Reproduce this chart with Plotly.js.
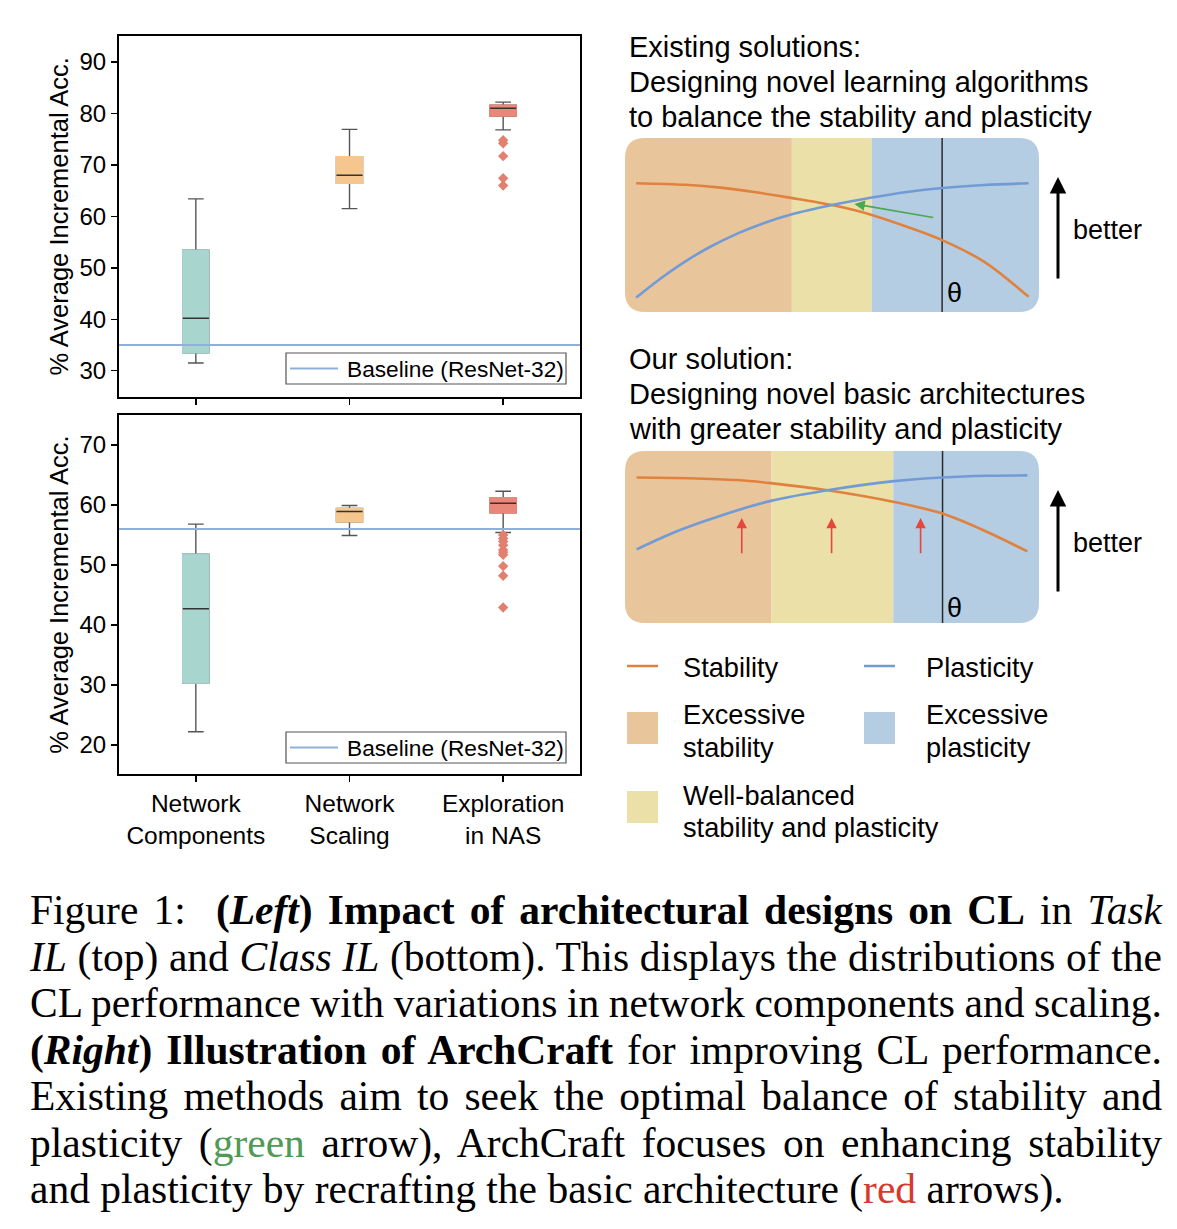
<!DOCTYPE html>
<html>
<head>
<meta charset="utf-8">
<script src="https://cdn.plot.ly/plotly-3.0.1.min.js"></script>
<style>
  body { margin: 0; background: #fff; }
  #wrap { position: relative; width: 1177px; height: 1229px; overflow: hidden; }
  #chart { position: absolute; left: 0; top: 0; width: 1177px; height: 1229px; }
  #caption { position: absolute; left: 30px; top: 887px; width: 1132px;
    font-family: "Liberation Serif", "Times New Roman", serif; font-size: 41.5px;
    line-height: 46.5px; color: #000; }
  #caption div { height: 46.5px; white-space: nowrap; text-align: left; }
</style>
</head>
<body>
<div id="wrap">
  <div id="chart"></div>
  <div id="caption">
    <div class="j"><span>Figure 1:&nbsp; <b>(<i>Left</i>) Impact of architectural designs on CL</b> in <i>Task</i></span></div>
    <div class="j"><span><i>IL</i> (top) and <i>Class IL</i> (bottom). This displays the distributions of the</span></div>
    <div class="j"><span>CL performance with variations in network components and scaling.</span></div>
    <div class="j"><span><b>(<i>Right</i>) Illustration of ArchCraft</b> for improving CL performance.</span></div>
    <div class="j"><span>Existing methods aim to seek the optimal balance of stability and</span></div>
    <div class="j"><span>plasticity (<span style="color:#4f9a55">green</span> arrow), ArchCraft focuses on enhancing stability</span></div>
    <div class="l"><span>and plasticity by recrafting the basic architecture (<span style="color:#d8392e">red</span> arrows).</span></div>
  </div>
</div>
<script>
// ---------------- data ----------------
const categories = ['Network<br>Components', 'Network<br>Scaling', 'Exploration<br>in NAS'];
const categoryPos = [0, 1, 2];

// Task IL (top panel)
const taskLowerFence = [31.5, 61.5, 76.8];
const taskQ1         = [33.5, 66.4, 79.5];
const taskMedian     = [40.2, 68.0, 81.0];
const taskQ3         = [53.4, 71.6, 81.6];
const taskUpperFence = [63.4, 76.9, 82.2];
const taskOutliersNAS = [74.8, 74.2, 71.7, 67.4, 66.0];
const taskBaseline = 35.0;

// Class IL (bottom panel)
const classLowerFence = [22.2, 54.9, 55.4];
const classQ1         = [30.3, 57.2, 58.7];
const classMedian     = [42.7, 58.9, 60.3];
const classQ3         = [51.8, 59.4, 61.2];
const classUpperFence = [56.8, 59.9, 62.3];
const classOutliersNAS = [55.0, 54.4, 53.9, 53.3, 52.5, 52.1, 51.7, 49.8, 48.2, 42.9];
const classBaseline = 56.0;

const baselineName = 'Baseline (ResNet-32)';
const yTitle = '% Average Incremental Acc.';

// Illustration panels (fractions of panel width / height)
const p1StabX = [0.027, 0.146, 0.231, 0.316, 0.401, 0.503, 0.596, 0.681, 0.766, 0.868, 0.975];
const p1StabY = [0.740, 0.731, 0.715, 0.688, 0.656, 0.613, 0.558, 0.490, 0.413, 0.288, 0.087];
const p1PlasX = [0.027, 0.087, 0.146, 0.206, 0.274, 0.333, 0.401, 0.503, 0.596, 0.681, 0.766, 0.868, 0.975];
const p1PlasY = [0.083, 0.194, 0.291, 0.375, 0.453, 0.509, 0.560, 0.616, 0.658, 0.690, 0.713, 0.730, 0.740];
const p1Bands = [0.403, 0.596];
const p1Theta = 0.766;
const p1Green = {from: [0.748, 0.542], to: [0.554, 0.621]};

const p2StabX = [0.028, 0.151, 0.272, 0.352, 0.489, 0.650, 0.767, 0.875, 0.972];
const p2StabY = [0.846, 0.842, 0.831, 0.813, 0.772, 0.704, 0.636, 0.529, 0.416];
const p2PlasX = [0.028, 0.111, 0.191, 0.272, 0.352, 0.489, 0.650, 0.767, 0.875, 0.972];
const p2PlasY = [0.428, 0.519, 0.591, 0.656, 0.710, 0.772, 0.825, 0.846, 0.856, 0.858];
const p2Bands = [0.354, 0.648];
const p2Theta = 0.767;
const p2RedX = [0.282, 0.499, 0.714];
const p2RedFrom = 0.397, p2RedTo = 0.611;

const heading1 = ['Existing solutions:', 'Designing novel learning algorithms', 'to balance the stability and plasticity'];
const heading2 = ['Our solution:', 'Designing novel basic architectures', 'with greater stability and plasticity'];
const legendLabels = [['Stability'], ['Plasticity'], ['Excessive', 'stability'], ['Excessive', 'plasticity'], ['Well-balanced', 'stability and plasticity']];

// ---------------- styling ----------------
const W = 1177, H = 1229;
const px = x => x / W;
const py = y => 1 - y / H;
const SANS = 'Liberation Sans, Arial, sans-serif';
const boxColors = ['#a9d5cf', '#f5c68e', '#e9887a'];
const outlierColor = '#e2806f';
const baselineColor = '#8fb1d9';
const cOrange = '#e0823d', cBlue = '#729bd6';
const bandOrange = '#e9c59c', bandYellow = '#ece0a9', bandBlue = '#b4cde2';
const xRange = [-0.5, 2.5];

const traces = [];
const shapes = [];
const annotations = [];

function addBoxes(lf, q1, med, q3, uf, outliers, baseline, xa, ya, legendBox) {
  for (let i = 0; i < categoryPos.length; i++) {
    const common = {type: 'box', x: [categoryPos[i]], width: 0.17, whiskerwidth: 0.6,
      boxpoints: false, xaxis: xa, yaxis: ya, showlegend: false, hoverinfo: 'skip'};
    traces.push(Object.assign({}, common, {q1: [q1[i]], median: [med[i]], q3: [q3[i]],
      lowerfence: [lf[i]], upperfence: [uf[i]], fillcolor: boxColors[i],
      line: {color: '#555', width: 1.4}}));
    traces.push(Object.assign({}, common, {q1: [q1[i]], median: [q1[i]], q3: [q3[i]],
      lowerfence: [q1[i]], upperfence: [q3[i]], fillcolor: boxColors[i],
      line: {color: boxColors[i], width: 1.4}}));
    traces.push(Object.assign({}, common, {q1: [med[i]], median: [med[i]], q3: [med[i]],
      lowerfence: [med[i]], upperfence: [med[i]], fillcolor: 'rgba(0,0,0,0)',
      whiskerwidth: 0, line: {color: '#333', width: 1.4}}));
  }
  traces.push({type: 'scatter', mode: 'markers', x: outliers.map(() => categoryPos[2]), y: outliers,
    marker: {symbol: 'diamond', size: 8, color: outlierColor}, xaxis: xa, yaxis: ya,
    showlegend: false, hoverinfo: 'skip'});
  traces.push({type: 'scatter', mode: 'lines', x: xRange, y: [baseline, baseline],
    line: {color: baselineColor, width: 2}, name: baselineName, xaxis: xa, yaxis: ya,
    showlegend: false, hoverinfo: 'skip'});
  const [l, t, r, b] = legendBox;
  const cy = (t + b) / 2;
  shapes.push({type: 'rect', xref: 'paper', yref: 'paper', x0: px(l), x1: px(r), y0: py(b), y1: py(t),
    fillcolor: '#fff', line: {color: '#555', width: 1.2}});
  shapes.push({type: 'line', xref: 'paper', yref: 'paper', x0: px(l + 4), x1: px(l + 52), y0: py(cy), y1: py(cy),
    line: {color: baselineColor, width: 2}});
  annotations.push({text: baselineName, xref: 'paper', yref: 'paper', x: px(l + 59), y: py(cy + 0.5),
    xanchor: 'left', yanchor: 'middle', showarrow: false, font: {family: SANS, size: 22.7, color: '#000'}});
}
addBoxes(taskLowerFence, taskQ1, taskMedian, taskQ3, taskUpperFence, taskOutliersNAS, taskBaseline, 'x', 'y', [286, 353, 566, 384]);
addBoxes(classLowerFence, classQ1, classMedian, classQ3, classUpperFence, classOutliersNAS, classBaseline, 'x2', 'y2', [286, 732, 566, 763]);

function curve(xs, ys, color, xa, ya) {
  traces.push({type: 'scatter', mode: 'lines', x: xs, y: ys, line: {color: color, width: 2.6, shape: 'spline', smoothing: 0.9},
    xaxis: xa, yaxis: ya, showlegend: false, hoverinfo: 'skip'});
}
curve(p1StabX, p1StabY, cOrange, 'x3', 'y3');
curve(p1PlasX, p1PlasY, cBlue, 'x3', 'y3');
curve(p2StabX, p2StabY, cOrange, 'x4', 'y4');
curve(p2PlasX, p2PlasY, cBlue, 'x4', 'y4');

// ---------------- axes ----------------
const yTickFont = {family: SANS, size: 24, color: '#000'};
const xTickFont = {family: SANS, size: 24.5, color: '#000'};
function boxX(domainPx, showLabels) {
  return {domain: [px(domainPx[0]), px(domainPx[1])], range: xRange, tickvals: categoryPos,
    ticktext: categories, showticklabels: showLabels, ticks: 'outside', ticklen: 6, tickwidth: 1.4,
    tickcolor: '#000', showline: true, linecolor: '#000', linewidth: 2, mirror: true,
    showgrid: false, zeroline: false, tickfont: xTickFont, automargin: false, fixedrange: true};
}
function boxY(topPx, botPx, range) {
  return {domain: [py(botPx), py(topPx)], range: range, dtick: 10, ticks: 'outside', ticklen: 6,
    tickwidth: 1.4, tickcolor: '#000', showline: true, linecolor: '#000', linewidth: 2, mirror: true,
    showgrid: false, zeroline: false, tickfont: yTickFont, automargin: false, fixedrange: true,
    title: {text: yTitle, font: {family: SANS, size: 25.5, color: '#000'}, standoff: 4}};
}
const panelX = [625, 1039];
function hidden(dom) { return {domain: dom, range: [0, 1], visible: false, fixedrange: true}; }

// ---------------- illustration shapes ----------------
function panel(bands, theta, xr, yr, wPx, hPx) {
  const rx = 20 / wPx, ry = 20 / hPx;
  const b0 = bands[0], b1 = bands[1];
  shapes.push({type: 'path', xref: xr, yref: yr, layer: 'below', fillcolor: bandOrange, line: {width: 0},
    path: `M ${rx},1 L ${b0},1 L ${b0},0 L ${rx},0 Q 0,0 0,${ry} L 0,${1 - ry} Q 0,1 ${rx},1 Z`});
  shapes.push({type: 'rect', xref: xr, yref: yr, layer: 'below', fillcolor: bandYellow, line: {width: 0},
    x0: b0, x1: b1, y0: 0, y1: 1});
  shapes.push({type: 'path', xref: xr, yref: yr, layer: 'below', fillcolor: bandBlue, line: {width: 0},
    path: `M ${b1},1 L ${1 - rx},1 Q 1,1 1,${1 - ry} L 1,${ry} Q 1,0 ${1 - rx},0 L ${b1},0 Z`});
  shapes.push({type: 'line', xref: xr, yref: yr, layer: 'below', x0: theta, x1: theta, y0: 0, y1: 1,
    line: {color: '#2a2a2a', width: 1.5}});
}
panel(p1Bands, p1Theta, 'x3', 'y3', 414, 174);
panel(p2Bands, p2Theta, 'x4', 'y4', 414, 172);

shapes.push({type: 'line', xref: 'paper', yref: 'paper', x0: px(627), x1: px(658), y0: py(666), y1: py(666), line: {color: cOrange, width: 2.5}});
shapes.push({type: 'line', xref: 'paper', yref: 'paper', x0: px(864), x1: px(895), y0: py(666), y1: py(666), line: {color: cBlue, width: 2.5}});
shapes.push({type: 'rect', xref: 'paper', yref: 'paper', x0: px(627), x1: px(658), y0: py(744), y1: py(712), fillcolor: bandOrange, line: {width: 0}});
shapes.push({type: 'rect', xref: 'paper', yref: 'paper', x0: px(864), x1: px(895), y0: py(744), y1: py(712), fillcolor: bandBlue, line: {width: 0}});
shapes.push({type: 'rect', xref: 'paper', yref: 'paper', x0: px(627), x1: px(658), y0: py(823), y1: py(791), fillcolor: bandYellow, line: {width: 0}});

// ---------------- text ----------------
const headFont = {family: SANS, size: 29, color: '#000'};
const annFont = {family: SANS, size: 27, color: '#000'};
const legFont = {family: SANS, size: 27.2, color: '#000'};
function txt(text, xPx, yPx, font) {
  annotations.push({text: text, xref: 'paper', yref: 'paper', x: px(xPx), y: py(yPx), xanchor: 'left',
    yanchor: 'middle', align: 'left', showarrow: false, font: font});
}
function lines(arr, xPx, yPxList, font) { arr.forEach((s, i) => txt(s, xPx, yPxList[i], font)); }
lines(heading1, 627, [47, 82, 117], headFont);
lines(heading2, 627, [359, 394, 429], headFont);
txt('better', 1071, 230, annFont);
txt('better', 1071, 543, annFont);
lines(legendLabels[0], 681, [667], legFont);
lines(legendLabels[1], 924, [667], legFont);
lines(legendLabels[2], 681, [714, 747], legFont);
lines(legendLabels[3], 924, [714, 747], legFont);
lines(legendLabels[4], 681, [795, 827], legFont);

annotations.push({text: 'θ', xref: 'x3', yref: 'y3', x: p1Theta + 0.03, y: 0.11, xanchor: 'center', yanchor: 'middle', showarrow: false, font: annFont});
annotations.push({text: 'θ', xref: 'x4', yref: 'y4', x: p2Theta + 0.03, y: 0.09, xanchor: 'center', yanchor: 'middle', showarrow: false, font: annFont});

[[177, 280], [490, 593]].forEach(([head, tail]) => {
  annotations.push({text: '', xref: 'paper', yref: 'paper', x: px(1058), y: py(head), ax: 0, ay: tail - head,
    showarrow: true, arrowhead: 2, arrowsize: 1.1, arrowwidth: 3, arrowcolor: '#000', standoff: 0});
});
annotations.push({text: '', xref: 'x3', yref: 'y3', axref: 'x3', ayref: 'y3', x: p1Green.to[0], y: p1Green.to[1],
  ax: p1Green.from[0], ay: p1Green.from[1], showarrow: true, arrowhead: 2, arrowsize: 1.3, arrowwidth: 1.6,
  arrowcolor: '#4aa84e', standoff: 0});
p2RedX.forEach(x => {
  annotations.push({text: '', xref: 'x4', yref: 'y4', axref: 'x4', ayref: 'y4', x: x, y: p2RedTo, ax: x, ay: p2RedFrom,
    showarrow: true, arrowhead: 2, arrowsize: 1.3, arrowwidth: 1.6, arrowcolor: '#e5473c', standoff: 0});
});

const layout = {
  width: W, height: H, margin: {l: 0, r: 0, t: 0, b: 0}, paper_bgcolor: '#fff', plot_bgcolor: 'rgba(0,0,0,0)',
  font: {family: SANS, color: '#000'}, boxmode: 'overlay', hovermode: false, showlegend: false,
  xaxis: boxX([119, 580], false),
  yaxis: boxY(36, 396.7, [24.95, 95.05]),
  xaxis2: Object.assign(boxX([119, 580], true), {anchor: 'y2'}),
  yaxis2: Object.assign(boxY(415, 774.3, [15.1, 75]), {anchor: 'x2'}),
  xaxis3: Object.assign(hidden([px(panelX[0]), px(panelX[1])]), {anchor: 'y3'}),
  yaxis3: Object.assign(hidden([py(312), py(138)]), {anchor: 'x3'}),
  xaxis4: Object.assign(hidden([px(panelX[0]), px(panelX[1])]), {anchor: 'y4'}),
  yaxis4: Object.assign(hidden([py(623), py(451)]), {anchor: 'x4'}),
  shapes: shapes, annotations: annotations
};

Plotly.newPlot('chart', traces, layout, {displayModeBar: false, staticPlot: true});

// justify caption lines to the full text width by adjusting word spacing
function justifyCaption() {
  const target = 1132;
  document.querySelectorAll('#caption .j').forEach(div => {
    const span = div.firstElementChild;
    span.style.wordSpacing = '0px';
    const w = span.getBoundingClientRect().width;
    const n = (span.textContent.match(/[ \u00a0]/g) || []).length;
    if (n > 0) span.style.wordSpacing = ((target - w) / n) + 'px';
  });
}
justifyCaption();
if (document.fonts && document.fonts.ready) document.fonts.ready.then(justifyCaption);
</script>
</body>
</html>
